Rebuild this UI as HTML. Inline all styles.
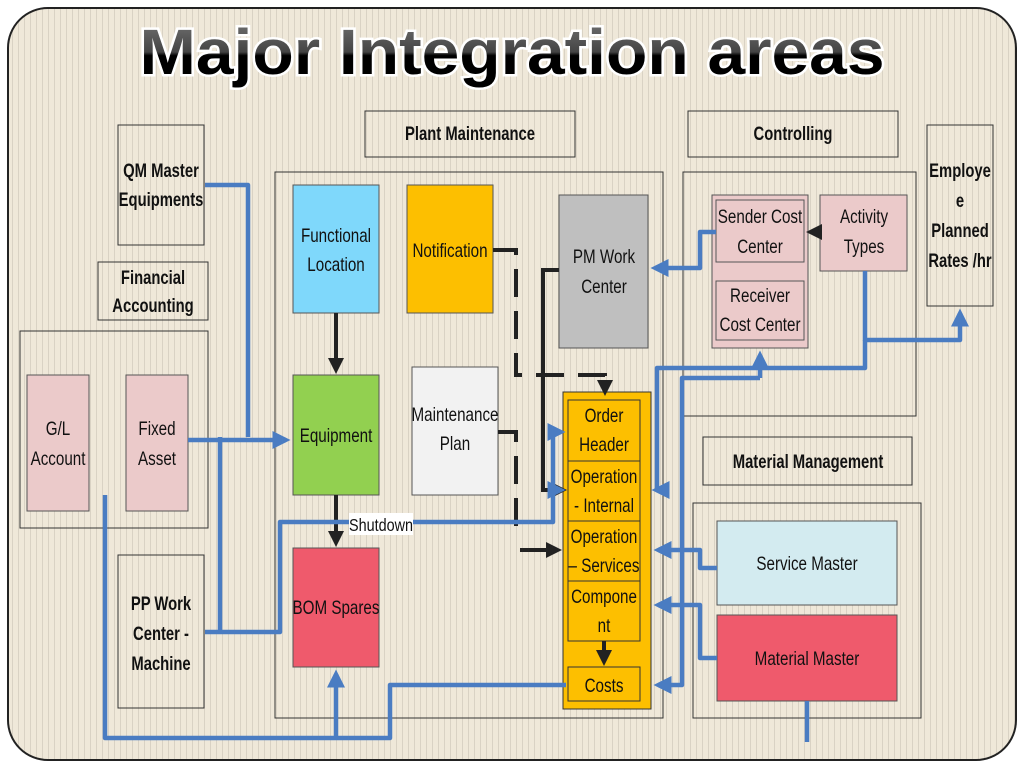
<!DOCTYPE html>
<html><head><meta charset="utf-8"><style>
html,body{margin:0;padding:0;background:#fff;}
svg{display:block;}
text{font-family:"Liberation Sans",sans-serif;}
</style></head><body>
<svg width="1024" height="768" viewBox="0 0 1024 768" xmlns="http://www.w3.org/2000/svg">
<defs>
<pattern id="st" width="6" height="10" patternUnits="userSpaceOnUse">
<rect width="6" height="10" fill="#efe8d9"/><rect x="0" width="1" height="10" fill="#d9d2c4"/>
</pattern>
<linearGradient id="tg" x1="0" y1="0" x2="0" y2="1">
<stop offset="0" stop-color="#777"/><stop offset="0.5" stop-color="#444"/><stop offset="0.55" stop-color="#000"/><stop offset="1" stop-color="#000"/>
</linearGradient>
<marker id="bA" markerWidth="4" markerHeight="4" refX="3" refY="2" orient="auto" markerUnits="strokeWidth"><path d="M0,0 L4,2 L0,4 z" fill="#4a7cc2"/></marker>
<marker id="kA" markerWidth="4" markerHeight="4" refX="3" refY="2" orient="auto" markerUnits="strokeWidth"><path d="M0,0 L4,2 L0,4 z" fill="#222"/></marker>
</defs>
<rect x="8" y="8" width="1008" height="752" rx="40" fill="url(#st)" stroke="#222" stroke-width="2"/>
<text x="512" y="74" text-anchor="middle" font-weight="bold" font-size="64" textLength="745" lengthAdjust="spacingAndGlyphs" fill="url(#tg)" stroke="#fff" stroke-width="5" paint-order="stroke">Major Integration areas</text>

<g fill="none" stroke="#333" stroke-width="1">
<rect x="365" y="111" width="210" height="46"/>
<rect x="688" y="111" width="210" height="46"/>
<rect x="118" y="125" width="86" height="120"/>
<rect x="927" y="125" width="66" height="181"/>
<rect x="98" y="262" width="110" height="58"/>
<rect x="20" y="331" width="188" height="197"/>
<rect x="118" y="555" width="86" height="153"/>
<rect x="275" y="172" width="388" height="546"/>
<rect x="683" y="172" width="233" height="244"/>
<rect x="703" y="437" width="209" height="48"/>
<rect x="693" y="503" width="228" height="215"/>
</g>

<g stroke="#555" stroke-width="1">
<rect x="27" y="375" width="62" height="136" fill="#ebcaca"/>
<rect x="126" y="375" width="62" height="136" fill="#ebcaca"/>
<rect x="293" y="185" width="86" height="128" fill="#7fd8fb"/>
<rect x="407" y="185" width="86" height="128" fill="#fdbf00"/>
<rect x="559" y="195" width="89" height="153" fill="#bfbfbf"/>
<rect x="293" y="375" width="86" height="120" fill="#92d050"/>
<rect x="412" y="367" width="86" height="128" fill="#f2f2f2"/>
<rect x="293" y="548" width="86" height="119" fill="#ef5a6c"/>
<rect x="563" y="392" width="88" height="317" fill="#fdbf00" stroke="#333"/>
<rect x="568" y="400" width="72" height="61" fill="#fdbf00" stroke="#333"/>
<rect x="568" y="461" width="72" height="60" fill="#fdbf00" stroke="#333"/>
<rect x="568" y="521" width="72" height="60" fill="#fdbf00" stroke="#333"/>
<rect x="568" y="581" width="72" height="60" fill="#fdbf00" stroke="#333"/>
<rect x="568" y="667" width="72" height="34" fill="#fdbf00" stroke="#333"/>
<rect x="712" y="195" width="96" height="153" fill="#ebcaca"/>
<rect x="716" y="200" width="88" height="62" fill="#ebcaca"/>
<rect x="716" y="281" width="88" height="59" fill="#ebcaca"/>
<rect x="820" y="195" width="87" height="76" fill="#ebcaca"/>
<rect x="717" y="521" width="180" height="84" fill="#d3ebf0"/>
<rect x="717" y="615" width="180" height="86" fill="#ef5a6c"/>
</g>

<!-- black connectors -->
<g fill="none" stroke="#222" stroke-width="4">
<path d="M336,313 V370" marker-end="url(#kA)"/>
<path d="M336,495 V543" marker-end="url(#kA)"/>
<path d="M820,232 H810" marker-end="url(#kA)"/>
<path d="M559,270 H543 V490 H563" marker-end="url(#kA)"/>
<path d="M604,641 V662" marker-end="url(#kA)"/>
<path d="M493,250 H516 V375 H605 V392" stroke-dasharray="28,14" marker-end="url(#kA)"/>
<path d="M498,432 H516 V528" stroke-dasharray="28,14"/>
<path d="M520,550 H558" marker-end="url(#kA)"/>
</g>

<!-- blue connectors -->
<g fill="none" stroke="#4a7cc2" stroke-width="4.5" stroke-linejoin="round">
<path d="M205,185 H248 V437"/>
<path d="M188,440 H286" marker-end="url(#bA)"/>
<path d="M205,632 H280 V522 H553 V432 H561" marker-end="url(#bA)"/>
<path d="M220,632 V437"/>
<path d="M553,490 H561" marker-end="url(#bA)"/>
<path d="M105,495 V738 H390 V685 H566"/>
<path d="M336,738 V674" marker-end="url(#bA)"/>
<path d="M716,232 H700 V268 H655" marker-end="url(#bA)"/>
<path d="M865,271 V340 H960 V313" marker-end="url(#bA)"/>
<path d="M865,340 V368 H657 V490 H658" />
<path d="M660,490 H656" marker-end="url(#bA)"/>
<path d="M760,378 H682 V685 H658" marker-end="url(#bA)"/>
<path d="M760,378 V355" marker-end="url(#bA)"/>
<path d="M717,568 H700 V550 H658" marker-end="url(#bA)"/>
<path d="M717,658 H700 V605 H658" marker-end="url(#bA)"/>
<path d="M807,701 V742"/>
</g>

<g font-size="19" font-weight="bold" text-anchor="middle" fill="#111">
<text transform="translate(470 140) scale(.78 1)">Plant Maintenance</text>
<text transform="translate(793 140) scale(.78 1)">Controlling</text>
<text transform="translate(808 468) scale(.78 1)">Material Management</text>
<text transform="translate(161 177) scale(.78 1)">QM Master</text>
<text transform="translate(161 206) scale(.78 1)">Equipments</text>
<text transform="translate(153 284) scale(.78 1)">Financial</text>
<text transform="translate(153 312) scale(.78 1)">Accounting</text>
<text transform="translate(161 610) scale(.78 1)">PP Work</text>
<text transform="translate(161 640) scale(.78 1)">Center -</text>
<text transform="translate(161 670) scale(.78 1)">Machine</text>
<text transform="translate(960 177) scale(.78 1)">Employe</text>
<text transform="translate(960 207) scale(.78 1)">e</text>
<text transform="translate(960 237) scale(.78 1)">Planned</text>
<text transform="translate(960 267) scale(.78 1)">Rates /hr</text>
</g>
<g font-size="19" text-anchor="middle" fill="#111">
<text transform="translate(58 435) scale(.8 1)">G/L</text><text transform="translate(58 465) scale(.8 1)">Account</text>
<text transform="translate(157 435) scale(.8 1)">Fixed</text><text transform="translate(157 465) scale(.8 1)">Asset</text>
<text transform="translate(336 242) scale(.8 1)">Functional</text><text transform="translate(336 271) scale(.8 1)">Location</text>
<text transform="translate(450 257) scale(.8 1)">Notification</text>
<text transform="translate(604 263) scale(.8 1)">PM Work</text><text transform="translate(604 293) scale(.8 1)">Center</text>
<text transform="translate(336 442) scale(.8 1)">Equipment</text>
<text transform="translate(455 421) scale(.8 1)">Maintenance</text><text transform="translate(455 450) scale(.8 1)">Plan</text>
<text transform="translate(336 614) scale(.8 1)">BOM Spares</text>
<text transform="translate(604 422) scale(.8 1)">Order</text><text transform="translate(604 451) scale(.8 1)">Header</text>
<text transform="translate(604 483) scale(.8 1)">Operation</text><text transform="translate(604 512) scale(.8 1)">- Internal</text>
<text transform="translate(604 543) scale(.8 1)">Operation</text><text transform="translate(604 572) scale(.8 1)">– Services</text>
<text transform="translate(604 603) scale(.8 1)">Compone</text><text transform="translate(604 632) scale(.8 1)">nt</text>
<text transform="translate(604 692) scale(.8 1)">Costs</text>
<text transform="translate(760 223) scale(.8 1)">Sender Cost</text><text transform="translate(760 253) scale(.8 1)">Center</text>
<text transform="translate(760 302) scale(.8 1)">Receiver</text><text transform="translate(760 331) scale(.8 1)">Cost Center</text>
<text transform="translate(864 223) scale(.8 1)">Activity</text><text transform="translate(864 253) scale(.8 1)">Types</text>
<text transform="translate(807 570) scale(.8 1)">Service Master</text>
<text transform="translate(807 665) scale(.8 1)">Material Master</text>
</g>
<rect x="349" y="513" width="64" height="22" fill="#fff"/>
<text transform="translate(381 531) scale(.8 1)" font-size="18" text-anchor="middle" fill="#111">Shutdown</text>
</svg>
</body></html>
